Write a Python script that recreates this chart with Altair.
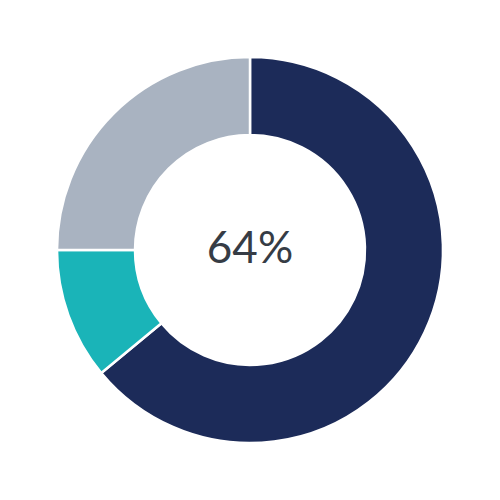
import altair as alt
import pandas as pd

categories = ["A", "B", "C"]
values = [64, 11, 25]
colors = ["#1c2b59", "#1ab4b8", "#a9b3c1"]
center_label = "64%"

df = pd.DataFrame({"cat": categories, "value": values, "order": [0, 1, 2]})

arc = alt.Chart(df).mark_arc(outerRadius=193, innerRadius=115, stroke="white", strokeWidth=2.5).encode(
    theta=alt.Theta("value:Q", stack=True),
    order=alt.Order("order:Q"),
    color=alt.Color("cat:N", scale=alt.Scale(domain=categories, range=colors), legend=None),
)

text = alt.Chart(pd.DataFrame({"t": [center_label]})).mark_text(
    font="Lato", fontSize=44, color="#363c45", baseline="alphabetic", align="center"
).encode(
    text="t:N", x=alt.value(242), y=alt.value(255)
)

chart = alt.layer(arc, text).properties(
    width=484, height=484, autosize=alt.AutoSizeParams(type="none"), padding=0
).configure_view(stroke=None)

chart.save("out.html", embed_options={"renderer": "svg", "actions": False})
